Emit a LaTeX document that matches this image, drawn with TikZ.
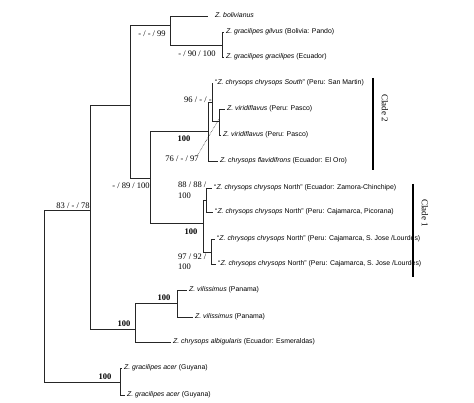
\documentclass[tikz,border=0pt]{standalone}
\usepackage{fontspec}
\setmainfont{Liberation Serif}
\newfontfamily\leaffont{Liberation Sans}
\begin{document}
\begin{tikzpicture}[x=1pt,y=-1pt,
  br/.style={line width=0.6pt,draw=black!85},
  leaf/.style={anchor=west,inner xsep=2pt,inner ysep=0.5pt,font=\leaffont\fontsize{6.9}{8}\selectfont,text height=5pt,text depth=1.5pt},
  sup/.style={inner sep=0pt,font=\fontsize{8.5}{9}\selectfont,text height=5.8pt,text depth=0pt},
  supb/.style={sup,font=\bfseries\fontsize{8.5}{9}\selectfont},
  cladebar/.style={line width=2.5pt},
  cladelab/.style={rotate=-90,inner sep=0pt,font=\fontsize{9}{10}\selectfont}]
\useasboundingbox (0,0) rectangle (474,403);

% leaves
\node[leaf] (l1) at (213,16) {\itshape Z. bolivianus};
\node[leaf] (l2) at (224,32) {\textit{Z. gracilipes gilvus} (Bolivia: Pando)};
\node[leaf] (l3) at (224,57) {\textit{Z. gracilipes gracilipes} (Ecuador)};
\node[leaf] (l4) at (213,83) {“\textit{Z. chrysops chrysops South}” (Peru: San Martin)};
\node[leaf] (l5) at (225,109) {\textit{Z. viridiflavus} (Peru: Pasco)};
\node[leaf] (l6) at (221,135) {\textit{Z. viridiflavus} (Peru: Pasco)};
\node[leaf] (l7) at (218,161) {\textit{Z. chrysops flavidifrons} (Ecuador: El Oro)};
\node[leaf] (l8) at (212,188) {“\textit{Z. chrysops chrysops} North” (Ecuador: Zamora-Chinchipe)};
\node[leaf] (l9) at (213,212) {“\textit{Z. chrysops chrysops} North” (Peru: Cajamarca, Picorana)};
\node[leaf] (l10) at (215,239) {“\textit{Z. chrysops chrysops} North” (Peru: Cajamarca, S. Jose /Lourdes)};
\node[leaf] (l11) at (216,264) {“\textit{Z. chrysops chrysops} North” (Peru: Cajamarca, S. Jose /Lourdes)};
\node[leaf] (l12) at (187,290) {\textit{Z. vilissimus} (Panama)};
\node[leaf] (l13) at (193,317) {\textit{Z. vilissimus} (Panama)};
\node[leaf] (l14) at (171,342) {\textit{Z. chrysops albigularis} (Ecuador: Esmeraldas)};
\node[leaf] (l15) at (122,368) {\textit{Z. gracilipes acer} (Guyana)};
\node[leaf] (l16) at (125,395) {\textit{Z. gracilipes acer} (Guyana)};

% internal nodes
\coordinate (A) at (222,45);
\coordinate (B) at (170,25);
\coordinate (C) at (130,105);
\coordinate (D) at (150,178);
\coordinate (K) at (208,131);
\coordinate (L) at (212,102);
\coordinate (J) at (219,121);
\coordinate (M) at (203,223);
\coordinate (N) at (206,200);
\coordinate (O) at (211,252);
\coordinate (E) at (90,210);
\coordinate (H) at (135,329);
\coordinate (I) at (177,303);
\coordinate (G) at (120,382);
\coordinate (F) at (44,296);

% branches
\draw[br] (F) |- (E);
\draw[br] (F) |- (G);
\draw[br] (E) |- (C);
\draw[br] (E) |- (H);
\draw[br] (C) |- (B);
\draw[br] (C) |- (D);
\draw[br] (B) |- ([xshift=-5pt]l1.west);
\draw[br] (B) |- (A);
\draw[br] (A) |- (l2.west);
\draw[br] (A) |- (l3.west);
\draw[br] (D) |- (K);
\draw[br] (D) |- (M);
\draw[br] (K) |- (L);
\draw[br] (K) |- (l7.west);
\draw[br] (L) |- (l4.west);
\draw[br] (L) |- (J);
\draw[br] (J) |- (l5.west);
\draw[br] (J) |- (l6.west);
\draw[br] (M) |- (N);
\draw[br] (M) |- (O);
\draw[br] (N) |- (l8.west);
\draw[br] (N) |- (l9.west);
\draw[br] (O) |- (l10.west);
\draw[br] (O) |- (l11.west);
\draw[br] (H) |- (I);
\draw[br] (H) |- (l14.west);
\draw[br] (I) |- (l12.west);
\draw[br] (I) |- (l13.west);
\draw[br] (G) |- (l15.west);
\draw[br] (G) |- (l16.west);

% support values
\node[sup] (s1) at (152,34) {- / - / 99};
\node[sup] (s2) at (197,54) {- / 90 / 100};
\node[sup,anchor=west] (s3) at (184,100) {96 / - / -};
\node[supb] (s4) at (184,139) {100};
\node[sup] (s5) at (182,159) {76 / - / 97};
\node[sup] (s6) at (131,186) {- / 89 / 100};
\node[sup,anchor=west] (s7) at (178,185) {88 / 88 /};
\node[sup,anchor=west] (s7b) at (178,196) {100};
\node[supb] (s8) at (191,232) {100};
\node[sup,anchor=west] (s9) at (178,257) {97 / 92 /};
\node[sup,anchor=west] (s9b) at (178,267) {100};
\node[sup] (s10) at (73,206) {83 / - / 78};
\node[supb] (s11) at (164,298) {100};
\node[supb] (s12) at (124,324) {100};
\node[supb] (s13) at (105,377) {100};

\draw[densely dotted,line width=0.5pt] ([xshift=-1pt,yshift=1pt]s5.north east) -- ([yshift=2pt]J);

% clades
\coordinate (c2t) at (373,78);
\coordinate (c2b) at (373,170);
\coordinate (c1t) at (413,184);
\coordinate (c1b) at (413,277);
\draw[cladebar] (c2t) -- (c2b);
\draw[cladebar] (c1t) -- (c1b);
\node[cladelab] (cl2) at (385,108) {Clade 2};
\node[cladelab] (cl1) at (425,213) {Clade 1};
\end{tikzpicture}
\end{document}
